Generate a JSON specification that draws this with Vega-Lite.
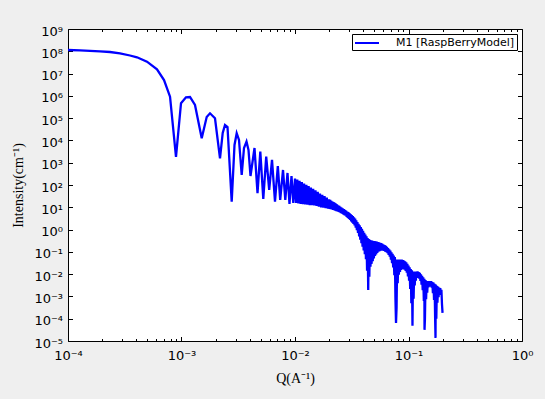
{
  "$schema": "https://vega.github.io/schema/vega-lite/v6.json",
  "width": 454,
  "height": 312,
  "autosize": {"type": "none"},
  "padding": {"left": 68, "top": 29, "right": 23, "bottom": 58},
  "background": "#efefef",
  "config": {
    "view": {"fill": "white", "stroke": "black", "strokeWidth": 1},
    "axis": {"domain": false, "grid": false, "tickColor": "black", "tickWidth": 1, "labelFont": "DejaVu Sans", "labelFontSize": 13, "labelColor": "black", "titleFont": "Liberation Serif", "titleFontSize": 14, "titleFontWeight": "normal", "titleColor": "black"}
  },
  "data": {"values": [
    {"q":0.0001,"I":1.14e8},{"q":0.0001276,"I":1.11e8},{"q":0.0001563,"I":1.052e8},{"q":0.0001914,"I":9.98e7},
    {"q":0.0002344,"I":9.29e7},{"q":0.0002871,"I":8.13e7},{"q":0.0003516,"I":6.47e7},{"q":0.0004055,"I":5.37e7},
    {"q":0.0004966,"I":3.41e7},{"q":0.0006081,"I":1.56e7},{"q":0.0007015,"I":5.15e6},{"q":0.0007925,"I":9.18e5},
    {"q":0.0008944,"I":1810},{"q":0.00099,"I":4.65e5},{"q":0.001095,"I":8.63e5},{"q":0.001188,"I":8.89e5},
    {"q":0.001315,"I":3.89e5},{"q":0.001507,"I":1.25e4},{"q":0.001667,"I":1.13e5},{"q":0.001783,"I":1.65e5},
    {"q":0.001973,"I":9.86e4},{"q":0.002184,"I":1580},{"q":0.002307,"I":2.16e4},{"q":0.002417,"I":4.93e4},
    {"q":0.002543,"I":4.01e4},{"q":0.002769,"I":17.9},{"q":0.002931,"I":6250},{"q":0.003064,"I":2.09e4},
    {"q":0.003211,"I":1.05e4},{"q":0.003391,"I":282},{"q":0.003554,"I":4580},{"q":0.003739,"I":8790},
    {"q":0.003893,"I":3730},{"q":0.004055,"I":254},{"q":0.004398,"I":4580},{"q":0.004674,"I":42.6},
    {"q":0.004946,"I":3130},{"q":0.005256,"I":23.6},{"q":0.005576,"I":1870},{"q":0.005925,"I":59.8},
    {"q":0.006272,"I":1330},{"q":0.006665,"I":17.9},{"q":0.007057,"I":714},{"q":0.007406,"I":21.3},
    {"q":0.007841,"I":472},{"q":0.008214,"I":21.3},{"q":0.008589,"I":347},{"q":0.008944,"I":14.1},
    {"q":0.009315,"I":254},{"q":0.009661,"I":15.6},
    {"q":0.01,"I":195},{"q":0.01023,"I":15.49},{"q":0.01047,"I":173.8},{"q":0.01072,"I":14.79},
    {"q":0.01096,"I":154.9},{"q":0.01122,"I":14.13},{"q":0.01148,"I":134.9},{"q":0.01175,"I":13.8},
    {"q":0.01202,"I":117.5},{"q":0.0123,"I":13.49},{"q":0.01259,"I":102.3},{"q":0.01288,"I":13.18},
    {"q":0.01318,"I":89.13},{"q":0.01349,"I":12.59},{"q":0.0138,"I":77.62},{"q":0.01413,"I":12.3},
    {"q":0.01445,"I":67.61},{"q":0.01479,"I":12.02},{"q":0.01514,"I":57.54},{"q":0.01549,"I":11.48},
    {"q":0.01585,"I":48.98},{"q":0.01622,"I":10.72},{"q":0.0166,"I":41.69},{"q":0.01698,"I":10.0},
    {"q":0.01738,"I":36.31},{"q":0.01778,"I":9.55},{"q":0.0182,"I":31.62},{"q":0.01862,"I":9.12},
    {"q":0.01905,"I":26.92},{"q":0.0195,"I":8.71},
    {"q":0.01995,"I":22.91},{"q":0.02018,"I":8.511},{"q":0.02042,"I":21.38},{"q":0.02065,"I":8.128},
    {"q":0.02089,"I":19.5},{"q":0.02113,"I":7.943},{"q":0.02138,"I":18.2},{"q":0.02163,"I":7.586},
    {"q":0.02188,"I":16.98},{"q":0.02213,"I":7.413},{"q":0.02239,"I":15.85},{"q":0.02265,"I":7.079},
    {"q":0.02291,"I":14.79},{"q":0.02317,"I":6.761},{"q":0.02344,"I":13.49},{"q":0.02371,"I":6.457},
    {"q":0.02399,"I":12.3},{"q":0.02427,"I":6.166},{"q":0.02455,"I":11.48},{"q":0.02483,"I":5.888},
    {"q":0.02512,"I":10.47},{"q":0.02541,"I":5.495},{"q":0.0257,"I":9.772},{"q":0.026,"I":5.129},
    {"q":0.0263,"I":8.913},{"q":0.02661,"I":4.786},{"q":0.02692,"I":8.318},{"q":0.02723,"I":4.467},
    {"q":0.02754,"I":7.586},{"q":0.02786,"I":4.169},{"q":0.02818,"I":7.079},{"q":0.02851,"I":3.715},
    {"q":0.02884,"I":6.457},{"q":0.02917,"I":3.311},{"q":0.02951,"I":6.026},{"q":0.02985,"I":3.02},
    {"q":0.0302,"I":5.495},{"q":0.03055,"I":2.692},{"q":0.0309,"I":5.012},{"q":0.03126,"I":2.344},
    {"q":0.03162,"I":4.467},{"q":0.03199,"I":2.042},{"q":0.03236,"I":3.981},{"q":0.03273,"I":1.778},
    {"q":0.03311,"I":3.548},{"q":0.03349,"I":1.549},{"q":0.03388,"I":3.09},{"q":0.03427,"I":1.23},
    {"q":0.03467,"I":2.63},{"q":0.03507,"I":0.9333},{"q":0.03548,"I":2.188},{"q":0.03589,"I":0.7079},
    {"q":0.03631,"I":1.82},{"q":0.03673,"I":0.4898},{"q":0.03715,"I":1.549},{"q":0.03758,"I":0.3467},
    {"q":0.03802,"I":1.288},{"q":0.03846,"I":0.2455},{"q":0.0389,"I":1.072},{"q":0.03935,"I":0.1698},
    {"q":0.03981,"I":0.8913},{"q":0.04027,"I":0.1148},{"q":0.04074,"I":0.7244},{"q":0.04121,"I":0.07762},
    {"q":0.04169,"I":0.6026},{"q":0.04217,"I":0.04677},{"q":0.04266,"I":0.5012},{"q":0.04315,"I":0.01413},
    {"q":0.04365,"I":0.4169},{"q":0.04416,"I":0.00195},{"q":0.04467,"I":0.3802},{"q":0.04519,"I":0.007586},
    {"q":0.04571,"I":0.3467},{"q":0.04624,"I":0.02138},{"q":0.04677,"I":0.3311},{"q":0.04731,"I":0.02884},
    {"q":0.04786,"I":0.3236},{"q":0.04842,"I":0.03802},{"q":0.04898,"I":0.309},{"q":0.04955,"I":0.05012},
    {"q":0.05012,"I":0.302},{"q":0.0507,"I":0.06607},{"q":0.05129,"I":0.2951},{"q":0.05188,"I":0.07586},
    {"q":0.05248,"I":0.2884},{"q":0.05309,"I":0.08913},{"q":0.0537,"I":0.2754},{"q":0.05432,"I":0.1023},
    {"q":0.05495,"I":0.2692},{"q":0.05559,"I":0.1072},{"q":0.05623,"I":0.257},{"q":0.05688,"I":0.1122},
    {"q":0.05754,"I":0.2455},{"q":0.05821,"I":0.1148},{"q":0.05888,"I":0.2291},{"q":0.05957,"I":0.1122},
    {"q":0.06026,"I":0.2138},{"q":0.06096,"I":0.1096},{"q":0.06166,"I":0.1995},{"q":0.06238,"I":0.1023},
    {"q":0.0631,"I":0.1862},{"q":0.06383,"I":0.09772},{"q":0.06457,"I":0.166},{"q":0.06532,"I":0.0871},
    {"q":0.06607,"I":0.1479},{"q":0.06684,"I":0.07244},{"q":0.06761,"I":0.1288},{"q":0.06839,"I":0.06166},
    {"q":0.06918,"I":0.1148},{"q":0.06998,"I":0.04467},{"q":0.07079,"I":0.0955},{"q":0.07161,"I":0.0309},
    {"q":0.07244,"I":0.08128},{"q":0.07328,"I":0.01995},{"q":0.07413,"I":0.06918},{"q":0.07499,"I":0.008913},
    {"q":0.07586,"I":0.05888},{"q":0.07674,"I":7.943e-4},{"q":0.07762,"I":6.457e-5},{"q":0.07852,"I":3.162e-4},
    {"q":0.07943,"I":0.04571},{"q":0.08035,"I":0.00389},{"q":0.08128,"I":0.04571},{"q":0.08223,"I":0.009333},
    {"q":0.08318,"I":0.04571},{"q":0.08414,"I":0.01259},{"q":0.08511,"I":0.04467},{"q":0.0861,"I":0.01549},
    {"q":0.0871,"I":0.04467},{"q":0.08811,"I":0.0166},{"q":0.08913,"I":0.04266},{"q":0.09016,"I":0.0166},
    {"q":0.0912,"I":0.04074},{"q":0.09226,"I":0.01585},{"q":0.09333,"I":0.03715},{"q":0.09441,"I":0.0138},
    {"q":0.0955,"I":0.03388},{"q":0.09661,"I":0.01175},{"q":0.09772,"I":0.02884},{"q":0.09886,"I":0.007943},
    {"q":0.1,"I":0.02455},{"q":0.1012,"I":0.005012},{"q":0.1023,"I":0.02042},{"q":0.1035,"I":0.002138},
    {"q":0.1047,"I":0.01698},{"q":0.1059,"I":4.898e-4},{"q":0.1072,"I":0.01479},{"q":0.1084,"I":4.786e-5},
    {"q":0.1096,"I":0.01318},{"q":0.1109,"I":7.943e-4},{"q":0.1122,"I":0.01318},{"q":0.1135,"I":0.00309},
    {"q":0.1148,"I":0.01318},{"q":0.1161,"I":0.005129},{"q":0.1175,"I":0.01318},{"q":0.1189,"I":0.006761},
    {"q":0.1202,"I":0.01318},{"q":0.1216,"I":0.006761},{"q":0.123,"I":0.0123},{"q":0.1245,"I":0.00631},
    {"q":0.1259,"I":0.01148},{"q":0.1274,"I":0.005012},{"q":0.1288,"I":0.009772},{"q":0.1303,"I":0.003388},
    {"q":0.1318,"I":0.008511},{"q":0.1334,"I":0.001905},{"q":0.1349,"I":0.007244},{"q":0.1365,"I":6.31e-4},
    {"q":0.138,"I":0.006166},{"q":0.1384,"I":3.162e-5},{"q":0.1396,"I":1.0e-4},{"q":0.1413,"I":0.005495},
    {"q":0.1429,"I":7.413e-4},{"q":0.1445,"I":0.004898},{"q":0.1462,"I":0.001479},{"q":0.1479,"I":0.004898},
    {"q":0.1496,"I":0.002512},{"q":0.1514,"I":0.004898},{"q":0.1531,"I":0.002818},{"q":0.1549,"I":0.004898},
    {"q":0.1567,"I":0.002754},{"q":0.1585,"I":0.004898},{"q":0.1603,"I":0.002455},{"q":0.1622,"I":0.004467},
    {"q":0.1641,"I":0.00138},{"q":0.166,"I":0.004169},{"q":0.1679,"I":6.918e-4},{"q":0.1698,"I":0.003715},
    {"q":0.1718,"I":7.943e-5},{"q":0.173,"I":1.38e-5},{"q":0.1738,"I":0.003388},{"q":0.1758,"I":1.0e-4},
    {"q":0.1778,"I":0.00302},{"q":0.1799,"I":5.248e-4},{"q":0.182,"I":0.002754},{"q":0.1841,"I":9.333e-4},
    {"q":0.1862,"I":0.002512},{"q":0.1884,"I":0.001175},{"q":0.1905,"I":0.002344},{"q":0.1928,"I":0.001175},
    {"q":0.195,"I":0.001995},{"q":0.1972,"I":4.571e-4},{"q":0.1995,"I":1.82e-4}
  ]},
  "resolve": {"axis": {"x": "independent", "y": "independent"}},
  "layer": [
    {
      "mark": {"type": "line", "strokeWidth": 2.3, "clip": true},
      "encoding": {
        "x": {"field": "q", "type": "quantitative",
          "scale": {"type": "log", "domain": [0.0001, 1], "nice": false},
          "axis": {"orient": "bottom", "title": "Q(A⁻¹)",
            "values": [0.0001,0.0002,0.0003,0.0004,0.0005,0.0006,0.0007,0.0008,0.0009,0.001,0.002,0.003,0.004,0.005,0.006,0.007,0.008,0.009,0.01,0.02,0.03,0.04,0.05,0.06,0.07,0.08,0.09,0.1,0.2,0.3,0.4,0.5,0.6,0.7,0.8,0.9,1],
            "labelExpr": "abs(log(datum.value)/LN10 - round(log(datum.value)/LN10)) > 0.001 ? '' : '10' + (round(log(datum.value)/LN10) < 0 ? '⁻' : '') + ['⁰','¹','²','³','⁴','⁵','⁶','⁷','⁸','⁹'][abs(round(log(datum.value)/LN10))]",
            "tickSize": {"condition": {"test": "abs(log(datum.value)/LN10 - round(log(datum.value)/LN10)) < 0.001", "value": -4.5}, "value": -2.5},
            "labelPadding": 13, "labelFlush": false, "labelOverlap": false,
            "titleX": 227, "titleY": 37, "titleBaseline": "middle", "titleAlign": "center"}},
        "y": {"field": "I", "type": "quantitative",
          "scale": {"type": "log", "domain": [0.00001, 1000000000], "nice": false},
          "axis": {"orient": "left", "title": "Intensity(cm⁻¹)",
            "values": [0.00001,0.0001,0.001,0.01,0.1,1,10,100,1000,10000,100000,1000000,10000000,100000000,1000000000],
            "labelExpr": "'10' + (round(log(datum.value)/LN10) < 0 ? '⁻' : '') + ['⁰','¹','²','³','⁴','⁵','⁶','⁷','⁸','⁹'][abs(round(log(datum.value)/LN10))]",
            "tickSize": -4.5, "labelPadding": 10, "labelOffset": 2, "labelFlush": false, "labelOverlap": false,
            "titleX": -50, "titleY": 156, "titleAngle": -90, "titleBaseline": "middle", "titleAlign": "center"}},
        "color": {"datum": "M1 [RaspBerryModel]", "type": "nominal",
          "scale": {"range": ["#0000ff"]},
          "legend": {"title": null, "orient": "top-right", "offset": 5, "strokeColor": "black", "fillColor": "white",
            "padding": 2, "cornerRadius": 0, "symbolType": "M-1,0H3", "symbolStrokeWidth": 2, "symbolSize": 144,
            "labelFont": "DejaVu Sans", "labelFontSize": 11, "labelColor": "black", "labelOffset": 28}}
      }
    },
    {
      "mark": {"type": "point", "opacity": 0},
      "encoding": {
        "x": {"field": "q", "type": "quantitative",
          "axis": {"orient": "top", "title": null, "labels": false,
            "values": [0.0001,0.0002,0.0003,0.0004,0.0005,0.0006,0.0007,0.0008,0.0009,0.001,0.002,0.003,0.004,0.005,0.006,0.007,0.008,0.009,0.01,0.02,0.03,0.04,0.05,0.06,0.07,0.08,0.09,0.1,0.2,0.3,0.4,0.5,0.6,0.7,0.8,0.9,1],
            "tickSize": {"condition": {"test": "abs(log(datum.value)/LN10 - round(log(datum.value)/LN10)) < 0.001", "value": -4.5}, "value": -2.5}}},
        "y": {"field": "I", "type": "quantitative",
          "axis": {"orient": "right", "title": null, "labels": false,
            "values": [0.00001,0.0001,0.001,0.01,0.1,1,10,100,1000,10000,100000,1000000,10000000,100000000,1000000000],
            "tickSize": -4.5}}
      }
    }
  ]
}
